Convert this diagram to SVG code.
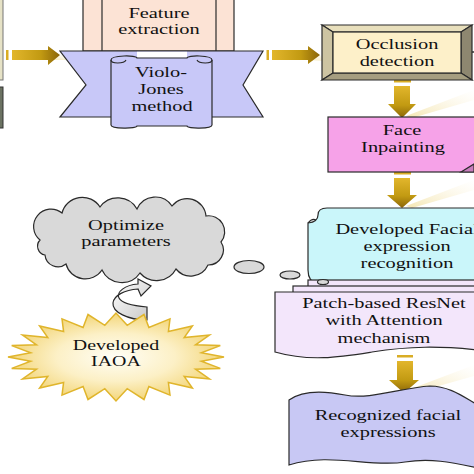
<svg xmlns="http://www.w3.org/2000/svg" width="474" height="474" viewBox="0 0 474 474">
<defs>
<linearGradient id="goldH" x1="0" y1="0" x2="1" y2="0">
<stop offset="0" stop-color="#e2b62c"/><stop offset="0.6" stop-color="#c29a12"/><stop offset="1" stop-color="#8a6508"/>
</linearGradient>
<linearGradient id="goldV" x1="0" y1="0" x2="0" y2="1">
<stop offset="0" stop-color="#e2b62c"/><stop offset="0.6" stop-color="#c29a12"/><stop offset="1" stop-color="#8a6508"/>
</linearGradient>
<linearGradient id="glow" x1="0" y1="1" x2="1" y2="0">
<stop offset="0" stop-color="#f3e3a8" stop-opacity="0.9"/><stop offset="1" stop-color="#fbf3da" stop-opacity="0"/>
</linearGradient>
<radialGradient id="star" cx="0.5" cy="0.5" r="0.5">
<stop offset="0" stop-color="#fffef6"/><stop offset="0.55" stop-color="#fcf0c6"/><stop offset="1" stop-color="#f3d67a"/>
</radialGradient>
<linearGradient id="curl" x1="0" y1="0" x2="1" y2="1">
<stop offset="0" stop-color="#ffffff"/><stop offset="1" stop-color="#c8c8c8"/>
</linearGradient>
<style>
text{font-family:'Liberation Serif','DejaVu Serif',serif;font-size:15px;fill:#111;text-anchor:middle}
.s{stroke:#2a2a2a;stroke-width:1.2}
</style>
</defs>

<g id="edge-left">
<rect x="-2" y="-2" width="5" height="82" fill="#e6e2c6" stroke="#777" stroke-width="1"/>
<rect x="-2" y="87" width="5" height="41" fill="#6b7262" stroke="#333" stroke-width="1"/>
</g>

<g id="connectors">
<polygon points="48,60 78,60 70,55 48,55" fill="url(#glow)"/>
<rect x="6" y="50" width="2.5" height="10" fill="#d9ad25"/>
<polygon points="12,50 48,50 48,46 60,55 48,65 48,60 12,60" fill="url(#goldH)"/>
<polygon points="308,60 340,62 332,56 308,55" fill="url(#glow)"/>
<rect x="266.5" y="50" width="2.5" height="10" fill="#d9ad25"/>
<polygon points="272,50 308,50 308,46 320,55 308,64 308,60 272,60" fill="url(#goldH)"/>
<polygon points="406,116 474,90 474,100 412,118" fill="url(#glow)"/>
<rect x="394" y="80" width="17" height="2.5" fill="#d9ad25"/>
<polygon points="394,86 394,104 388,104 402,118 416,104 410,104 410,86" fill="url(#goldV)"/>
<polygon points="406,206 474,180 474,190 412,208" fill="url(#glow)"/>
<rect x="394" y="172" width="17" height="2.5" fill="#d9ad25"/>
<polygon points="394,178 394,195 387,195 402,208 417,195 410,195 410,178" fill="url(#goldV)"/>
<polygon points="408,390 474,365 474,376 414,393" fill="url(#glow)"/>
<rect x="397" y="355" width="16" height="2.5" fill="#d9ad25"/>
<polygon points="397,361 397,380 389,380 404,393 419,380 413,380 413,361" fill="url(#goldV)"/>
<line x1="472" y1="52" x2="474" y2="52" stroke="#333" stroke-width="1.5"/>
<path d="M147,320 C128,320 112,312 113,303 C114,295 125,290 138,289 L141,296 L151,286 L138,279 L138,284 C125,285 116,292 119,298 C122,304 135,306 147,307 Z" fill="url(#curl)" class="s"/>
</g>

<g id="feature-extraction">
<rect x="83" y="-1" width="151" height="52" fill="#fce3d5" class="s"/>
<line x1="102" y1="-1" x2="102" y2="51" class="s"/>
<line x1="216" y1="-1" x2="216" y2="51" class="s"/>
<text font-family="Liberation Serif, serif" transform="translate(159,18) scale(1.36,1)">Feature</text>
<text font-family="Liberation Serif, serif" transform="translate(159,34) scale(1.36,1)">extraction</text>
</g>

<g id="violo-jones">
<polygon points="60,51 263,51 243,85 263,117 60,117 86,85" fill="#c8c8f8" class="s"/>
<rect x="137" y="51.8" width="50" height="6" fill="#ffffff"/>
<path d="M111,60 C111,55 137,55 137,58 L187,58 C187,55 212,55 212,60 L212,125 C212,129 187,129 187,126 L137,126 C137,129 111,129 111,125 Z" fill="#c8c8f8" class="s"/>
<path d="M111,60 C111,64 124,64 126,60" fill="none" class="s"/>
<path d="M212,60 C212,64 199,64 197,60" fill="none" class="s"/>
<text font-family="Liberation Serif, serif" transform="translate(161,77) scale(1.36,1)">Violo-</text>
<text font-family="Liberation Serif, serif" transform="translate(161,94) scale(1.36,1)">Jones</text>
<text font-family="Liberation Serif, serif" transform="translate(162,111) scale(1.36,1)">method</text>
</g>

<g id="occlusion-detection">
<polygon points="322,25 472,25 461,32 333,32" fill="#e8dfbc" class="s"/>
<polygon points="322,25 333,32 333,73 322,80" fill="#cdc4a2" class="s"/>
<polygon points="472,25 472,80 461,73 461,32" fill="#8e8770" class="s"/>
<polygon points="322,80 333,73 461,73 472,80" fill="#a69e80" class="s"/>
<rect x="333" y="32" width="128" height="41" fill="#fdf0c9" class="s"/>
<text font-family="Liberation Serif, serif" transform="translate(397,49) scale(1.36,1)">Occlusion</text>
<text font-family="Liberation Serif, serif" transform="translate(397,66) scale(1.36,1)">detection</text>
</g>

<g id="face-inpainting">
<rect x="328" y="117" width="150" height="55" fill="#f6a2e8" class="s"/>
<polygon points="461,172 474,164 474,172" fill="#c77dbc" class="s"/>
<text font-family="Liberation Serif, serif" transform="translate(402,135) scale(1.36,1)">Face</text>
<text font-family="Liberation Serif, serif" transform="translate(403,152) scale(1.36,1)">Inpainting</text>
</g>

<g id="facial-expression-recognition">
<path d="M327,208 L478,208 L478,284 L318,284 Q308,282 308,270 L308,223 Q318,222 318,215 Q318,208 327,208 Z" fill="#caf6fa" class="s"/>
<path d="M308,223 Q312,218 316,220" fill="none" class="s"/>
<text font-family="Liberation Serif, serif" transform="translate(407,234) scale(1.36,1)">Developed Facial</text>
<text font-family="Liberation Serif, serif" transform="translate(407,251) scale(1.36,1)">expression</text>
<text font-family="Liberation Serif, serif" transform="translate(407,268) scale(1.36,1)">recognition</text>
</g>

<g id="patch-resnet">
<rect x="308" y="280" width="170" height="60" fill="#f3e6fb" class="s"/>
<rect x="293" y="286" width="185" height="60" fill="#f3e6fb" class="s"/>
<path d="M275,292 L478,292 L478,350 C440,346 410,346 372,352 C340,357 310,362 275,352 Z" fill="#f3e6fb" class="s"/>
<text font-family="Liberation Serif, serif" transform="translate(384,308) scale(1.36,1)">Patch-based ResNet</text>
<text font-family="Liberation Serif, serif" transform="translate(384,325) scale(1.36,1)">with Attention</text>
<text font-family="Liberation Serif, serif" transform="translate(384,343) scale(1.36,1)">mechanism</text>
</g>

<g id="recognized-expressions">
<path d="M289,400 C300,392 320,390 345,395 C370,400 400,388 430,386 C450,386 465,398 478,405 L478,468 C450,462 430,458 405,462 C370,468 330,452 289,465 Z" fill="#c8c8f4" class="s"/>
<text font-family="Liberation Serif, serif" transform="translate(388,420) scale(1.36,1)">Recognized facial</text>
<text font-family="Liberation Serif, serif" transform="translate(388,437) scale(1.36,1)">expressions</text>
</g>

<g id="optimize-parameters">
<path d="M40,240 A17,17 0 0 1 62,213 A21,21 0 0 1 100,207 A22,22 0 0 1 137,209 A20,20 0 0 1 172,206 A19,19 0 0 1 206,216 A16,16 0 0 1 221,242 A15,15 0 0 1 208,265 A19,19 0 0 1 176,269 A22,22 0 0 1 140,273 A22,22 0 0 1 102,270 A20,20 0 0 1 66,264 A13,13 0 0 1 45,255 A9,9 0 0 1 40,240 Z" fill="#d9d9d9" class="s"/>
<ellipse cx="249" cy="267" rx="15" ry="6.5" fill="#d9d9d9" class="s"/>
<ellipse cx="290" cy="275" rx="10" ry="4" fill="#d9d9d9" class="s"/>
<ellipse cx="323" cy="282" rx="5.5" ry="2.5" fill="#d9d9d9" class="s"/>
<text font-family="Liberation Serif, serif" transform="translate(126,230) scale(1.36,1)">Optimize</text>
<text font-family="Liberation Serif, serif" transform="translate(126,246) scale(1.36,1)">parameters</text>
</g>

<g id="developed-iaoa">
<polygon points="224,357 201.3,361.2 220.3,368.4 195.5,369.2 209.5,379 184.2,376.5 192.4,388.1 168.4,382.4 170,395.1 148.9,386.6 144,399.5 127.2,388.7 116,401 104.8,388.7 88,399.5 83.1,386.6 62,395.1 63.6,382.4 39.6,388.1 47.8,376.5 22.5,379 36.5,369.2 11.7,368.4 30.7,361.2 8,357 30.7,352.8 11.7,345.6 36.5,344.8 22.5,335 47.8,337.5 39.6,325.9 63.6,331.6 62,318.9 83.1,327.4 88,314.5 104.8,325.3 116,313 127.2,325.3 144,314.5 148.9,327.4 170,318.9 168.4,331.6 192.4,325.9 184.2,337.5 209.5,335 195.5,344.8 220.3,345.6 201.3,352.8" fill="url(#star)" stroke="#e0b52c" stroke-width="1.5" stroke-linejoin="miter"/>
<text font-family="Liberation Serif, serif" transform="translate(116,350) scale(1.33,1)">Developed</text>
<text font-family="Liberation Serif, serif" transform="translate(116,366) scale(1.33,1)">IAOA</text>
</g>
</svg>
